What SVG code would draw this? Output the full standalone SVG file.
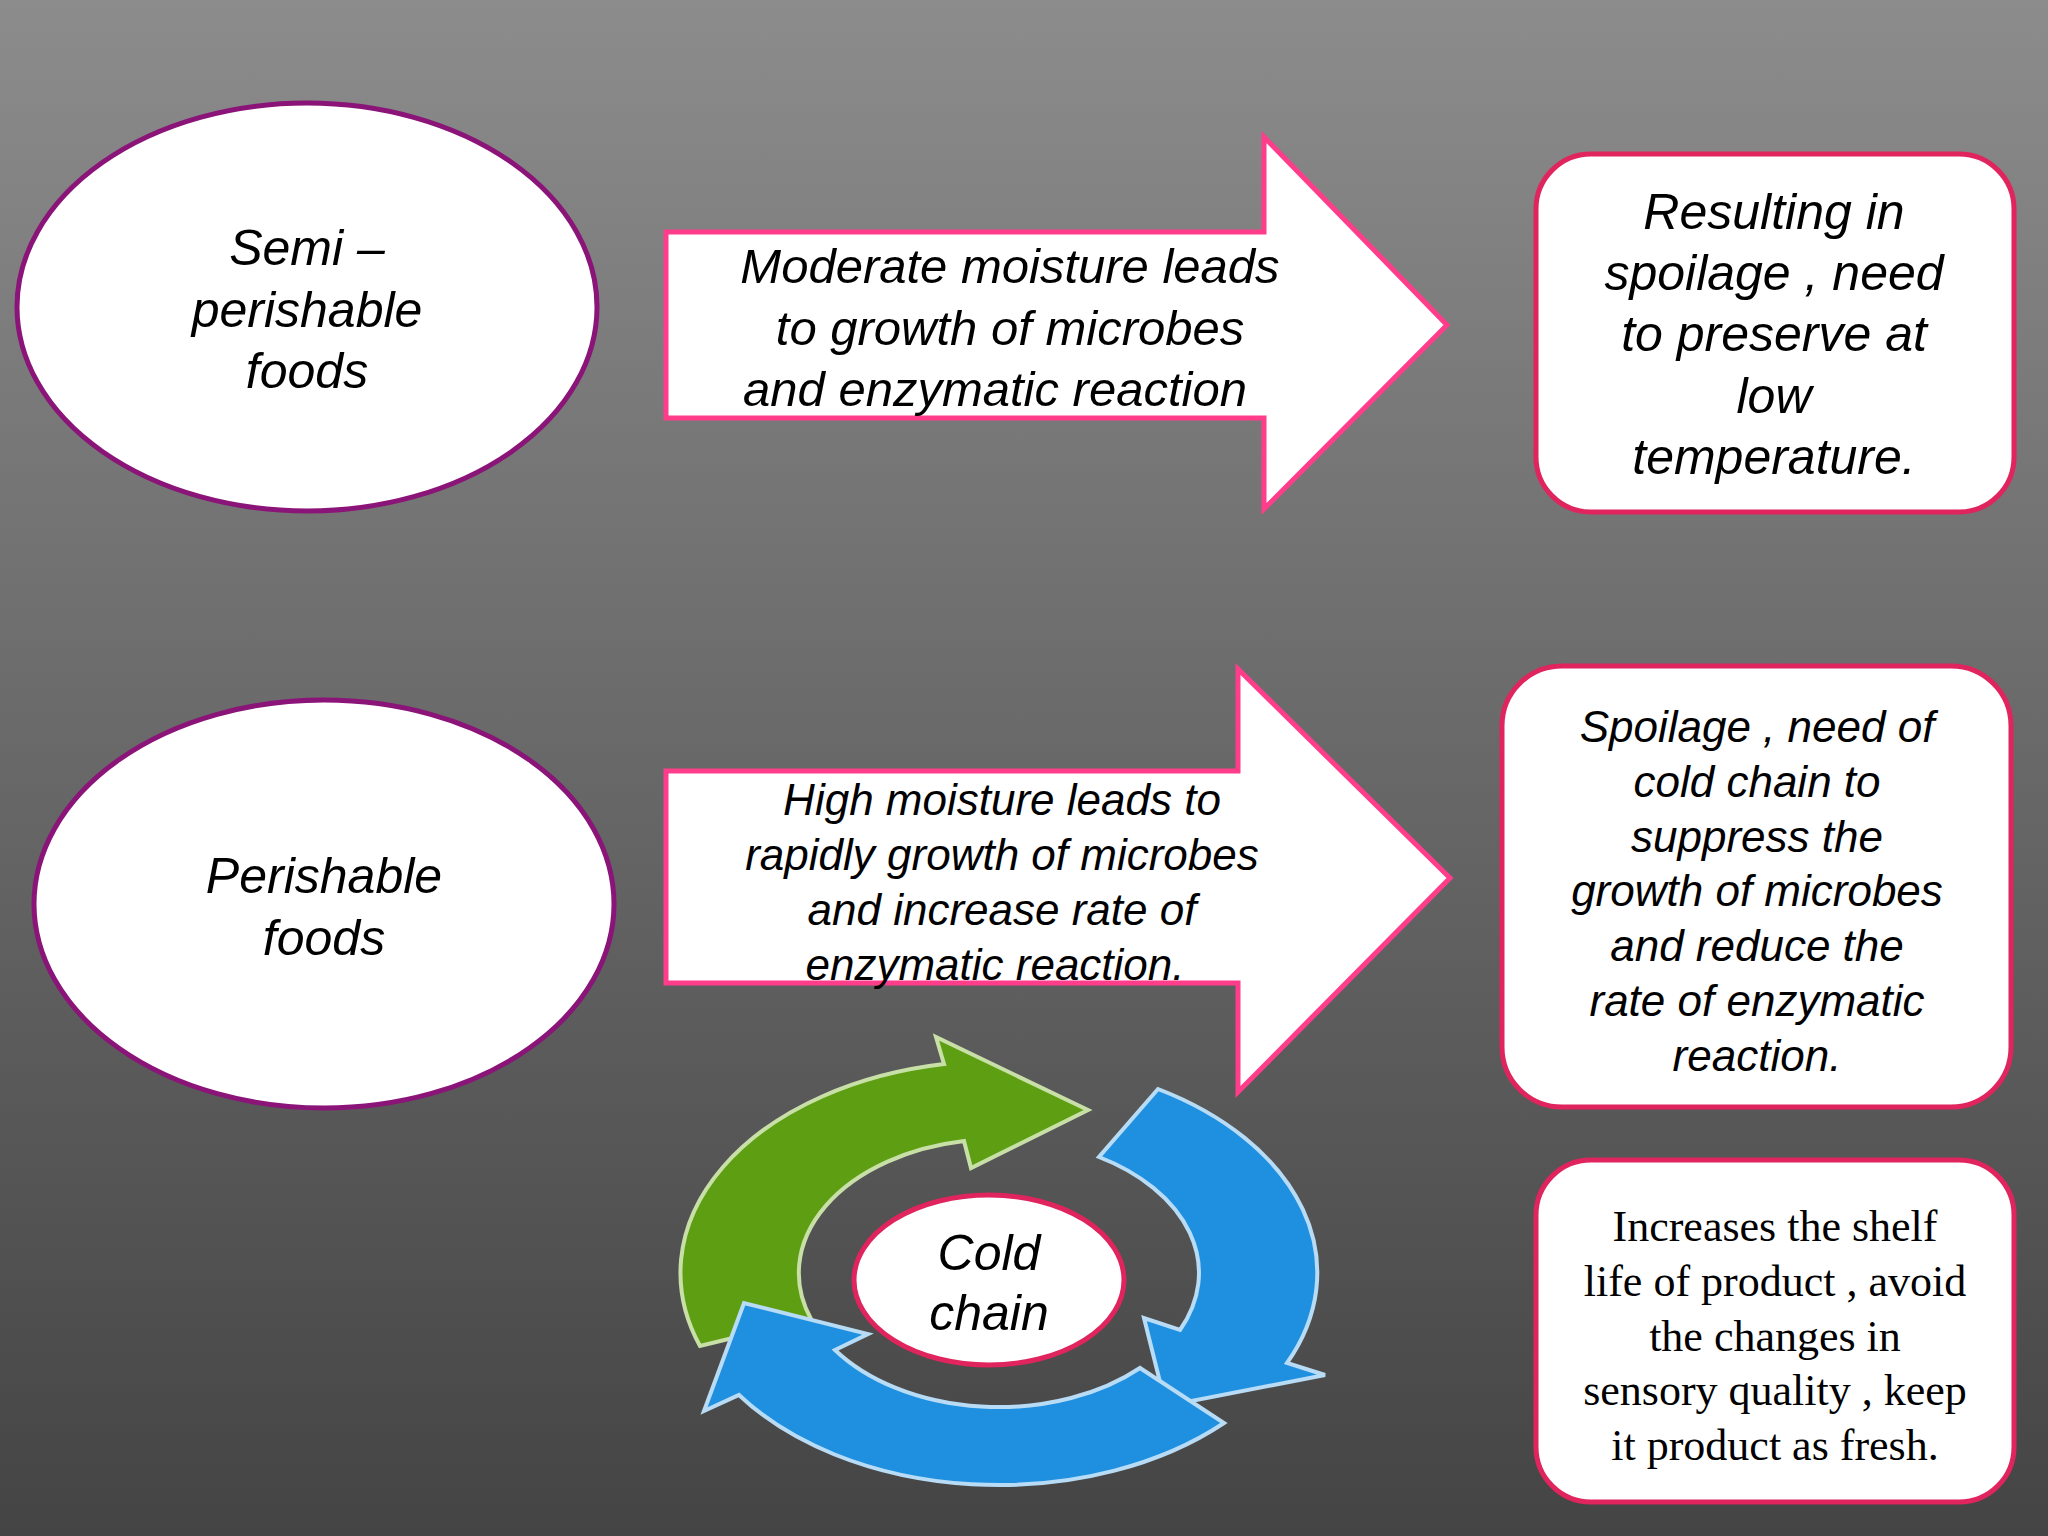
<svg xmlns="http://www.w3.org/2000/svg" width="2048" height="1536" viewBox="0 0 2048 1536">
<defs>
<linearGradient id="bg" x1="0" y1="0" x2="0" y2="1"><stop offset="0" stop-color="#8c8c8c"/><stop offset="1" stop-color="#444"/></linearGradient>
<style>
.ell{fill:#fff;stroke:#8b1478;stroke-width:5}
.box{fill:#fff;stroke:#e0245e;stroke-width:5}
.arr{fill:#fff;stroke:#ff3d8a;stroke-width:5}
.t{font-family:"Liberation Sans",Arial,sans-serif;font-style:italic;fill:#000;text-anchor:middle}
.s{font-family:"Liberation Serif","Times New Roman",serif;fill:#000;text-anchor:middle;font-size:44px}
</style>
</defs>
<rect width="2048" height="1536" fill="url(#bg)"/>
<g id="semi"><ellipse class="ell" cx="307" cy="307" rx="290" ry="204"/>
<text class="t" font-size="50"><tspan x="307" y="265">Semi –</tspan><tspan x="307" y="327">perishable</tspan><tspan x="307" y="388">foods</tspan></text></g>
<g id="perish"><ellipse class="ell" cx="324" cy="904" rx="290" ry="204"/>
<text class="t" font-size="50"><tspan x="324" y="893">Perishable</tspan><tspan x="324" y="955">foods</tspan></text></g>
<g id="arrow1"><path class="arr" d="M666,232 L1264,232 L1264,137 L1447,325 L1264,509 L1264,418 L666,418 Z"/>
<text class="t" font-size="49"><tspan x="1010" y="283">Moderate moisture leads</tspan><tspan x="1010" y="345">to growth of microbes</tspan><tspan x="995" y="406">and enzymatic reaction</tspan></text></g>
<g id="arrow2"><path class="arr" d="M666,771 L1238,771 L1238,669 L1450,878 L1238,1092 L1238,983 L666,983 Z"/>
<text class="t" font-size="44"><tspan x="1002" y="815">High moisture leads to</tspan><tspan x="1002" y="870">rapidly growth of microbes</tspan><tspan x="1002" y="925">and increase rate of</tspan><tspan x="995" y="980">enzymatic reaction.</tspan></text></g>
<g id="box1"><rect class="box" x="1536" y="154" width="478" height="358" rx="55"/>
<text class="t" font-size="50"><tspan x="1774" y="229">Resulting in</tspan><tspan x="1774" y="290">spoilage , need</tspan><tspan x="1774" y="351">to preserve at</tspan><tspan x="1774" y="413">low</tspan><tspan x="1774" y="474">temperature.</tspan></text></g>
<g id="box2"><rect class="box" x="1502" y="666" width="509" height="441" rx="60"/>
<text class="t" font-size="44"><tspan x="1757" y="742">Spoilage , need of</tspan><tspan x="1757" y="797">cold chain to</tspan><tspan x="1757" y="852">suppress the</tspan><tspan x="1757" y="906">growth of microbes</tspan><tspan x="1757" y="961">and reduce the</tspan><tspan x="1757" y="1016">rate of enzymatic</tspan><tspan x="1757" y="1071">reaction.</tspan></text></g>
<g id="box3"><rect class="box" x="1536" y="1160" width="478" height="342" rx="55"/>
<text class="s"><tspan x="1775" y="1241">Increases the shelf</tspan><tspan x="1775" y="1296">life of product , avoid</tspan><tspan x="1775" y="1351">the changes in</tspan><tspan x="1775" y="1405">sensory quality , keep</tspan><tspan x="1775" y="1460">it product as fresh.</tspan></text></g>
<g id="cycle">
<path d="M700,1346 A318,212 0 0 1 944,1064 L936,1037 L1088,1110 L971,1168 L964,1141 A200,134 0 0 0 811,1319 Z" fill="#5e9e12" stroke="#c8e0a8" stroke-width="4"/>
<path d="M1158,1089 A318,212 0 0 1 1287,1363 L1325,1375 L1166,1406 L1144,1318 L1180,1330 A200,134 0 0 0 1099,1157 Z" fill="#1f8fe0" stroke="#b8dcf5" stroke-width="4"/>
<path d="M1224,1423 A318,212 0 0 1 739,1395 L704,1411 L744,1303 L868,1334 L835,1350 A200,134 0 0 0 1140,1368 Z" fill="#1f8fe0" stroke="#b8dcf5" stroke-width="4"/>
</g>
<g id="cold"><ellipse class="box" cx="989" cy="1280" rx="135" ry="85"/>
<text class="t" font-size="50"><tspan x="989" y="1270">Cold</tspan><tspan x="989" y="1330">chain</tspan></text></g>
</svg>
